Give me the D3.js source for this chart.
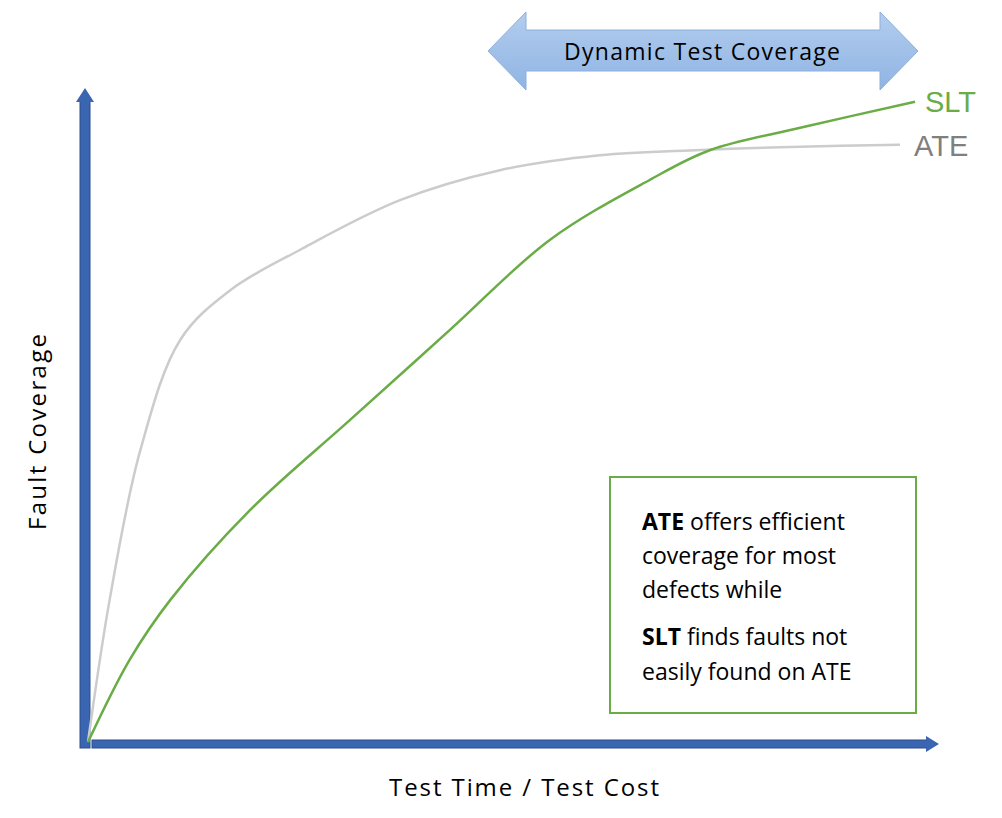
<!DOCTYPE html>
<html><head><meta charset="utf-8">
<script src="https://cdn.jsdelivr.net/npm/d3@7"></script>
<style>body{margin:0;background:#fff}</style>
</head><body>
<div id="chart"></div>
<script>
// curve points, x and y in percent of the axis span
var ateX = [0, 2.6, 6.3, 11.1, 17.1, 25.5, 37.5, 49.5, 61.5, 73.6, 85.6, 97.6];
var ateY = [0, 21.8, 44.8, 61.7, 69.3, 75.5, 83.1, 87.7, 90.0, 90.8, 91.3, 91.6];
var sltX = [0, 5.0, 9.9, 19.5, 31.5, 43.5, 55.5, 67.5, 74.8, 85.6, 99.4];
var sltY = [0, 12.6, 21.8, 35.6, 49.4, 63.2, 77.0, 86.2, 90.8, 94.2, 98.2];
var noteLines = [["ATE", " offers efficient"], ["", "coverage for most"], ["", "defects while"], ["SLT", " finds faults not"], ["", "easily found on ATE"]];

var svg = d3.select("#chart").append("svg").attr("width", 1002).attr("height", 818);
var font = "'Open Sans', sans-serif";

var x = d3.scaleLinear().domain([0, 100]).range([88, 920]);
var y = d3.scaleLinear().domain([0, 100]).range([742, 90]);

var defs = svg.append("defs");
var g = defs.append("linearGradient").attr("id", "blu").attr("x1", 0).attr("y1", 0).attr("x2", 0).attr("y2", 1);
g.append("stop").attr("offset", "0%").attr("stop-color", "#b3cdee");
g.append("stop").attr("offset", "100%").attr("stop-color", "#8fb4e3");

// double arrow
svg.append("path")
  .attr("d", "M488,51 L526,12 L526,30 L880,30 L880,12 L918,51 L880,90 L880,71 L526,71 L526,90 Z")
  .attr("fill", "url(#blu)").attr("stroke", "#8db0dc").attr("stroke-width", 1);
svg.append("text").attr("x", 702).attr("y", 60).attr("text-anchor", "middle")
  .attr("font-family", font).attr("font-size", 23).attr("textLength", 276).text("Dynamic Test Coverage");

// axes drawn as thick blue arrows
svg.append("rect").attr("x", 80).attr("y", 98).attr("width", 10).attr("height", 650)
  .attr("fill", "#3a65b0").attr("stroke", "#2a4c8c");
svg.append("path").attr("d", "M76,102 L85,88 L94,102 Z").attr("fill", "#3a65b0");
svg.append("rect").attr("x", 92).attr("y", 740).attr("width", 836).attr("height", 8)
  .attr("fill", "#3a65b0").attr("stroke", "#2a4c8c");
svg.append("path").attr("d", "M926,736 L939,744 L926,752 Z").attr("fill", "#3a65b0");

var line = d3.line().x(function(d){ return x(d[0]); }).y(function(d){ return y(d[1]); }).curve(d3.curveCatmullRom.alpha(0.5));
svg.append("path").datum(d3.zip(ateX, ateY)).attr("d", line)
  .attr("fill", "none").attr("stroke", "#cccccc").attr("stroke-width", 2.5);
svg.append("path").datum(d3.zip(sltX, sltY)).attr("d", line)
  .attr("fill", "none").attr("stroke", "#6aac46").attr("stroke-width", 2.5);

svg.append("text").attr("x", 925).attr("y", 112).attr("font-family", "'Liberation Sans', Arial, sans-serif")
  .attr("font-size", 29).attr("fill", "#6aac46").text("SLT");
svg.append("text").attr("x", 914).attr("y", 156).attr("font-family", "'Liberation Sans', Arial, sans-serif")
  .attr("font-size", 29).attr("fill", "#7f7f7f").text("ATE");

// axis titles
svg.append("text").attr("x", 524).attr("y", 796).attr("text-anchor", "middle")
  .attr("font-family", font).attr("font-size", 24).attr("textLength", 270).text("Test Time / Test Cost");
svg.append("text").attr("transform", "translate(46,432) rotate(-90)").attr("text-anchor", "middle")
  .attr("font-family", font).attr("font-size", 24).attr("textLength", 196).text("Fault Coverage");

// note box
svg.append("rect").attr("x", 610).attr("y", 477).attr("width", 306).attr("height", 236)
  .attr("fill", "#fff").attr("stroke", "#6aac46").attr("stroke-width", 2);
var lineY = [530, 564, 598, 645, 680];
noteLines.forEach(function(l, i){
  var t = svg.append("text").attr("x", 642).attr("y", lineY[i]).attr("font-family", font).attr("font-size", 23);
  if (l[0]) t.append("tspan").attr("font-weight", "bold").text(l[0]);
  t.append("tspan").text(l[1]);
});
</script>
</body></html>
